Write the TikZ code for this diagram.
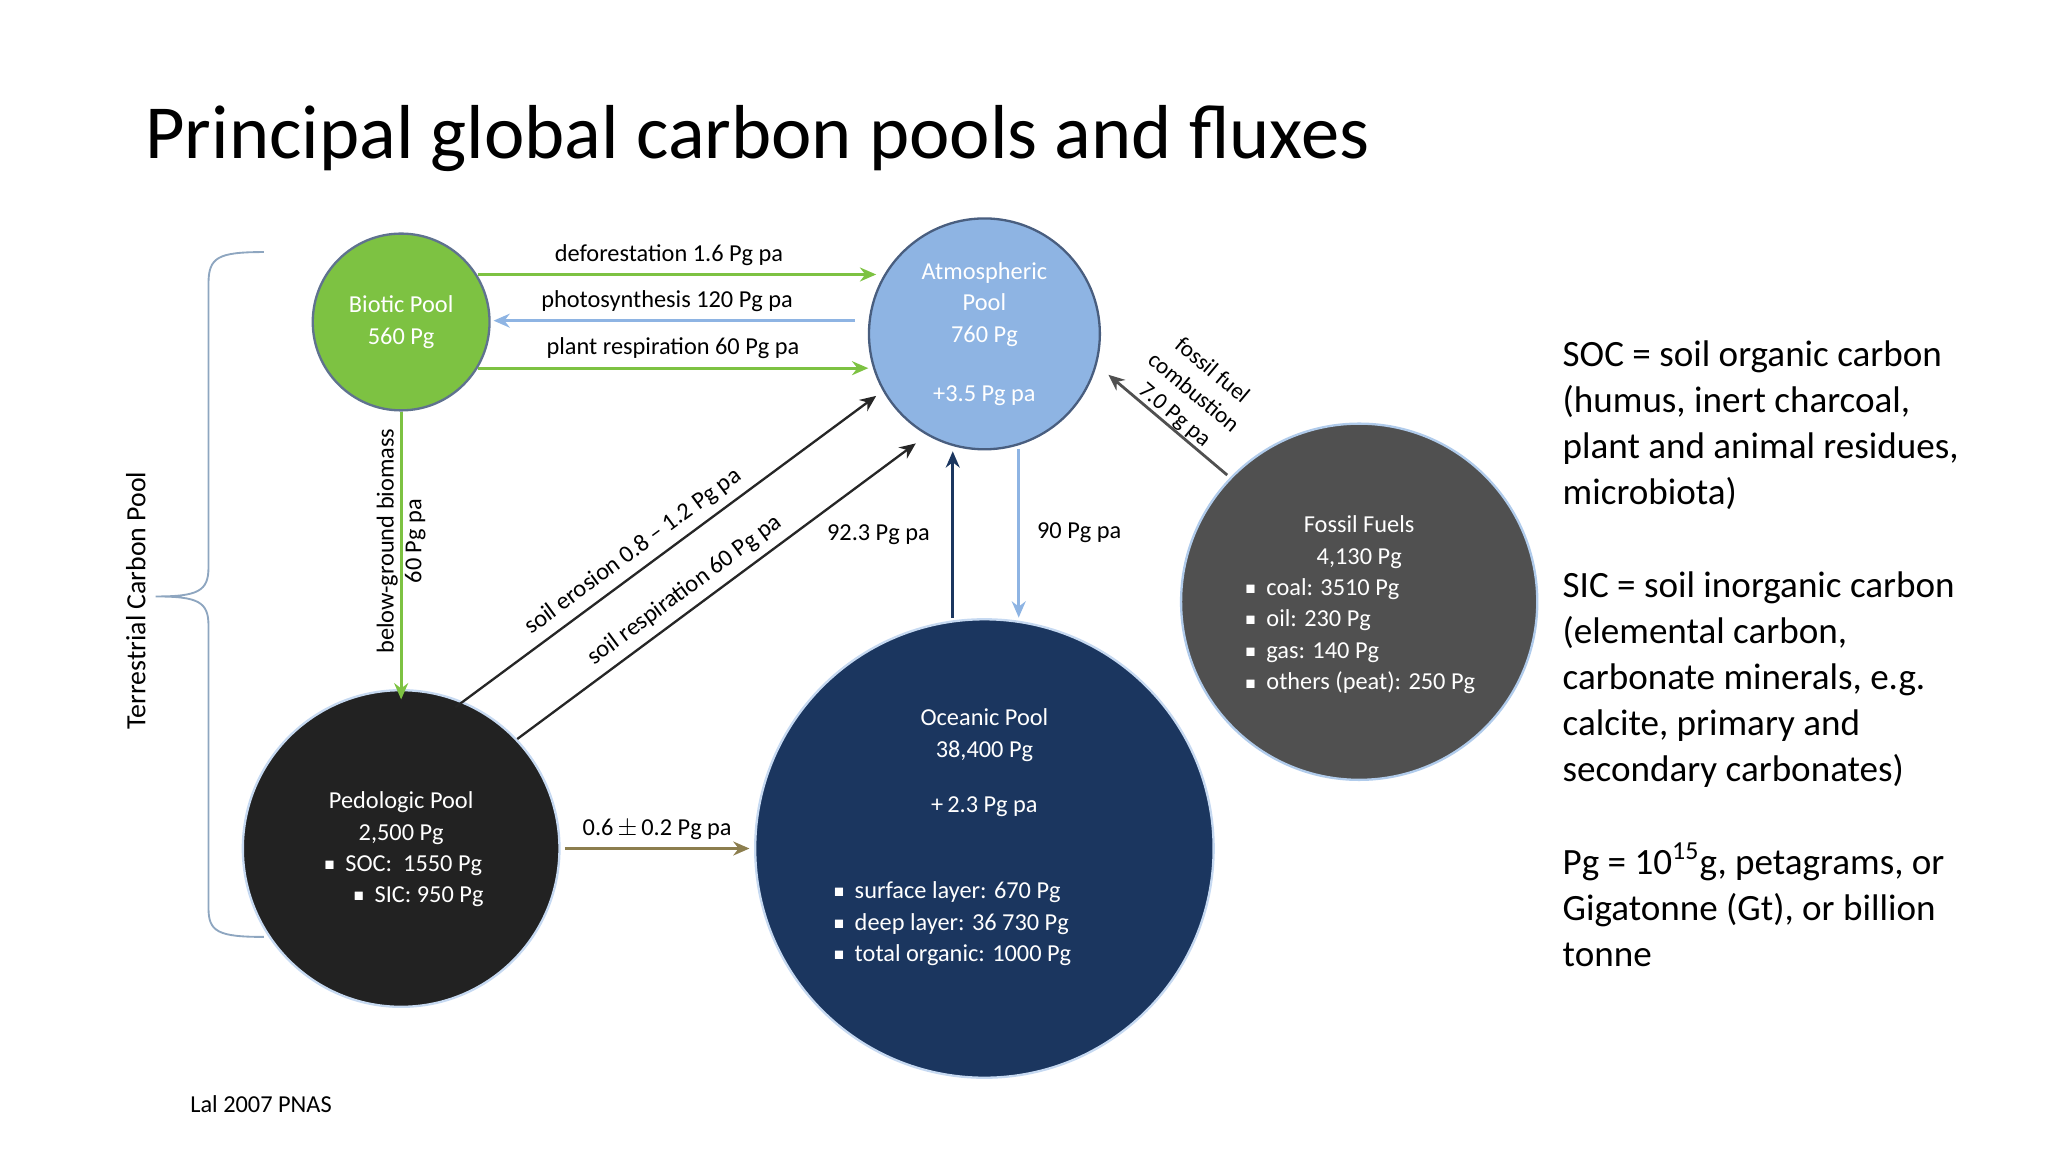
\documentclass[tikz,border=0pt]{standalone}
\usepackage{amssymb}
\usepackage{fontspec}
\setmainfont{Carlito}
\usetikzlibrary{arrows.meta}
\definecolor{biogreen}{HTML}{7DC242}
\definecolor{atmblue}{HTML}{8EB4E3}
\definecolor{oceanblue}{HTML}{1B365F}
\definecolor{fossilgray}{HTML}{505050}
\definecolor{pedoblack}{HTML}{222222}
\definecolor{olive}{HTML}{8C7E4E}
\definecolor{bracegray}{HTML}{8EA6C0}
\newcommand{\bul}{\raisebox{0.15ex}{\scalebox{0.5}{$\blacksquare$}}\ \ }
\begin{document}
\begin{tikzpicture}[x=0.02cm,y=-0.02cm]
  \tikzstyle{pool} = [circle, draw, line width=1pt, text=white, align=center, font=\fontsize{10.5}{13.6}\selectfont]
  \tikzstyle{flux} = [line width=1.2pt, -{Stealth[length=7pt,width=6pt]}]
  \tikzstyle{lbl} = [font=\fontsize{10.5}{12}\selectfont, text=black]
  \useasboundingbox (0,0) rectangle (1552,873);
  % title
  \node (title) [anchor=base west, font=\fontsize{33}{38}\selectfont] at (104,120) {Principal global carbon pools and fluxes};
  % pools
  \node (bio) [pool, fill=biogreen, draw=oceanblue!70, minimum size=2.68cm] at (304,244) {Biotic Pool\\560 Pg};
  \node (atm) [pool, fill=atmblue, draw=oceanblue!80, minimum size=3.5cm] at (746,253) {Atmospheric\\Pool\\760 Pg\\[12pt]+3.5 Pg pa};
  \node (fos) [pool, fill=fossilgray, draw=atmblue!70, minimum size=5.4cm] at (1030,456) {};
  \node [text=white, align=left, font=\fontsize{10.5}{13.6}\selectfont, anchor=north west] at (938,432) {\bul coal: 3510 Pg\\\bul oil: 230 Pg\\\bul gas: 140 Pg\\\bul others (peat): 250 Pg};
  \node [text=white, align=center, font=\fontsize{10.5}{13.6}\selectfont] at (1030,411) {Fossil Fuels\\4,130 Pg};
  \node (ped) [pool, fill=pedoblack, draw=atmblue!50, minimum size=4.8cm] at (304,643) {};
  \node [text=white, align=center, font=\fontsize{10.5}{13.6}\selectfont] at (304,620) {Pedologic Pool\\2,500 Pg};
  \node [text=white, align=left, font=\fontsize{10.5}{13.6}\selectfont, anchor=north west] at (240,642) {\bul SOC:~ 1550 Pg\\\hspace*{1.2em}\bul SIC: 950 Pg};
  \node (oce) [pool, fill=oceanblue, draw=atmblue!50, minimum size=6.95cm] at (746,643) {};
  \node [text=white, align=center, font=\fontsize{10.5}{13.6}\selectfont] at (746,578) {Oceanic Pool\\38,400 Pg\\[10pt]+\,2.3 Pg pa};
  \node [text=white, align=left, font=\fontsize{10.5}{13.6}\selectfont, anchor=north west] at (626,662) {\bul surface layer: 670 Pg\\\bul deep layer: 36 730 Pg\\\bul total organic: 1000 Pg};
  % fluxes
  \coordinate (d1) at (362,208); \coordinate (d2) at (664,208);
  \draw [flux, biogreen] (d1) -- node[lbl, above, pos=0.48]{deforestation 1.6 Pg pa} (d2);
  \coordinate (p1) at (648,243); \coordinate (p2) at (374,243);
  \draw [flux, atmblue] (p1) -- node[lbl, above, pos=0.52]{photosynthesis 120 Pg pa} (p2);
  \coordinate (r1) at (362,279); \coordinate (r2) at (658,279);
  \draw [flux, biogreen] (r1) -- node[lbl, above]{plant respiration 60 Pg pa} (r2);
  \coordinate (b1) at (304,312); \coordinate (b2) at (304,530);
  \draw [flux, biogreen] (b1) -- node[lbl, rotate=90, align=center, pos=0.45]{below-ground biomass\\60 Pg pa} (b2);
  \coordinate (e1) at (345,536); \coordinate (e2) at (664,300);
  \draw [flux, black!85, line width=1pt] (e1) -- node[lbl, above, sloped, pos=0.45]{soil erosion 0.8 -- 1.2 Pg pa} (e2);
  \coordinate (s1) at (392,560); \coordinate (s2) at (694,336);
  \draw [flux, black!85, line width=1pt] (s1) -- node[lbl, above, sloped, pos=0.45]{soil respiration 60 Pg pa} (s2);
  \coordinate (o1) at (722,468); \coordinate (o2) at (722,342);
  \draw [flux, oceanblue] (o1) -- node[lbl, left=6pt]{92.3 Pg pa} (o2);
  \coordinate (a1) at (772,340); \coordinate (a2) at (772,468);
  \draw [flux, atmblue] (a1) -- node[lbl, right=4pt]{90 Pg pa} (a2);
  \coordinate (f1) at (930,360); \coordinate (f2) at (840,284);
  \draw [flux, fossilgray] (f1) -- (f2);
  \node (fosl) [lbl, rotate=-40, align=center, font=\fontsize{10}{12.5}\selectfont] at (904,298) {fossil fuel\\combustion\\7.0 Pg pa};
  \coordinate (g1) at (428,643); \coordinate (g2) at (568,643);
  \draw [flux, olive] (g1) -- node[lbl, above]{0.6\,$\pm$\,0.2 Pg pa} (g2);
  % brace
  \coordinate (br1) at (200,191); \coordinate (br2) at (200,710);
  \draw [bracegray, line width=0.8pt] (br1) .. controls (165,191) and (158,195) .. (158,215) -- (158,430) .. controls (158,448) and (150,452) .. (118,452) .. controls (150,452) and (158,456) .. (158,474) -- (158,688) .. controls (158,706) and (165,710) .. (br2);
  \node (terr) [rotate=90, font=\fontsize{12}{14}\selectfont] at (103,455) {Terrestrial Carbon Pool};
  % notes
  \node (notes) [anchor=north west, align=left, font=\fontsize{16}{19.9}\selectfont] at (1178,252) {SOC = soil organic carbon\\(humus, inert charcoal,\\plant and animal residues,\\microbiota)\\[19.9pt]SIC = soil inorganic carbon\\(elemental carbon,\\carbonate minerals, e.g.\\calcite, primary and\\secondary carbonates)\\[19.9pt]Pg = 10\textsuperscript{15}g, petagrams, or\\Gigatonne (Gt), or billion\\tonne};
  \node (src) [anchor=base west, font=\fontsize{10.5}{12}\selectfont] at (138,843) {Lal 2007 PNAS};
\end{tikzpicture}
\end{document}
